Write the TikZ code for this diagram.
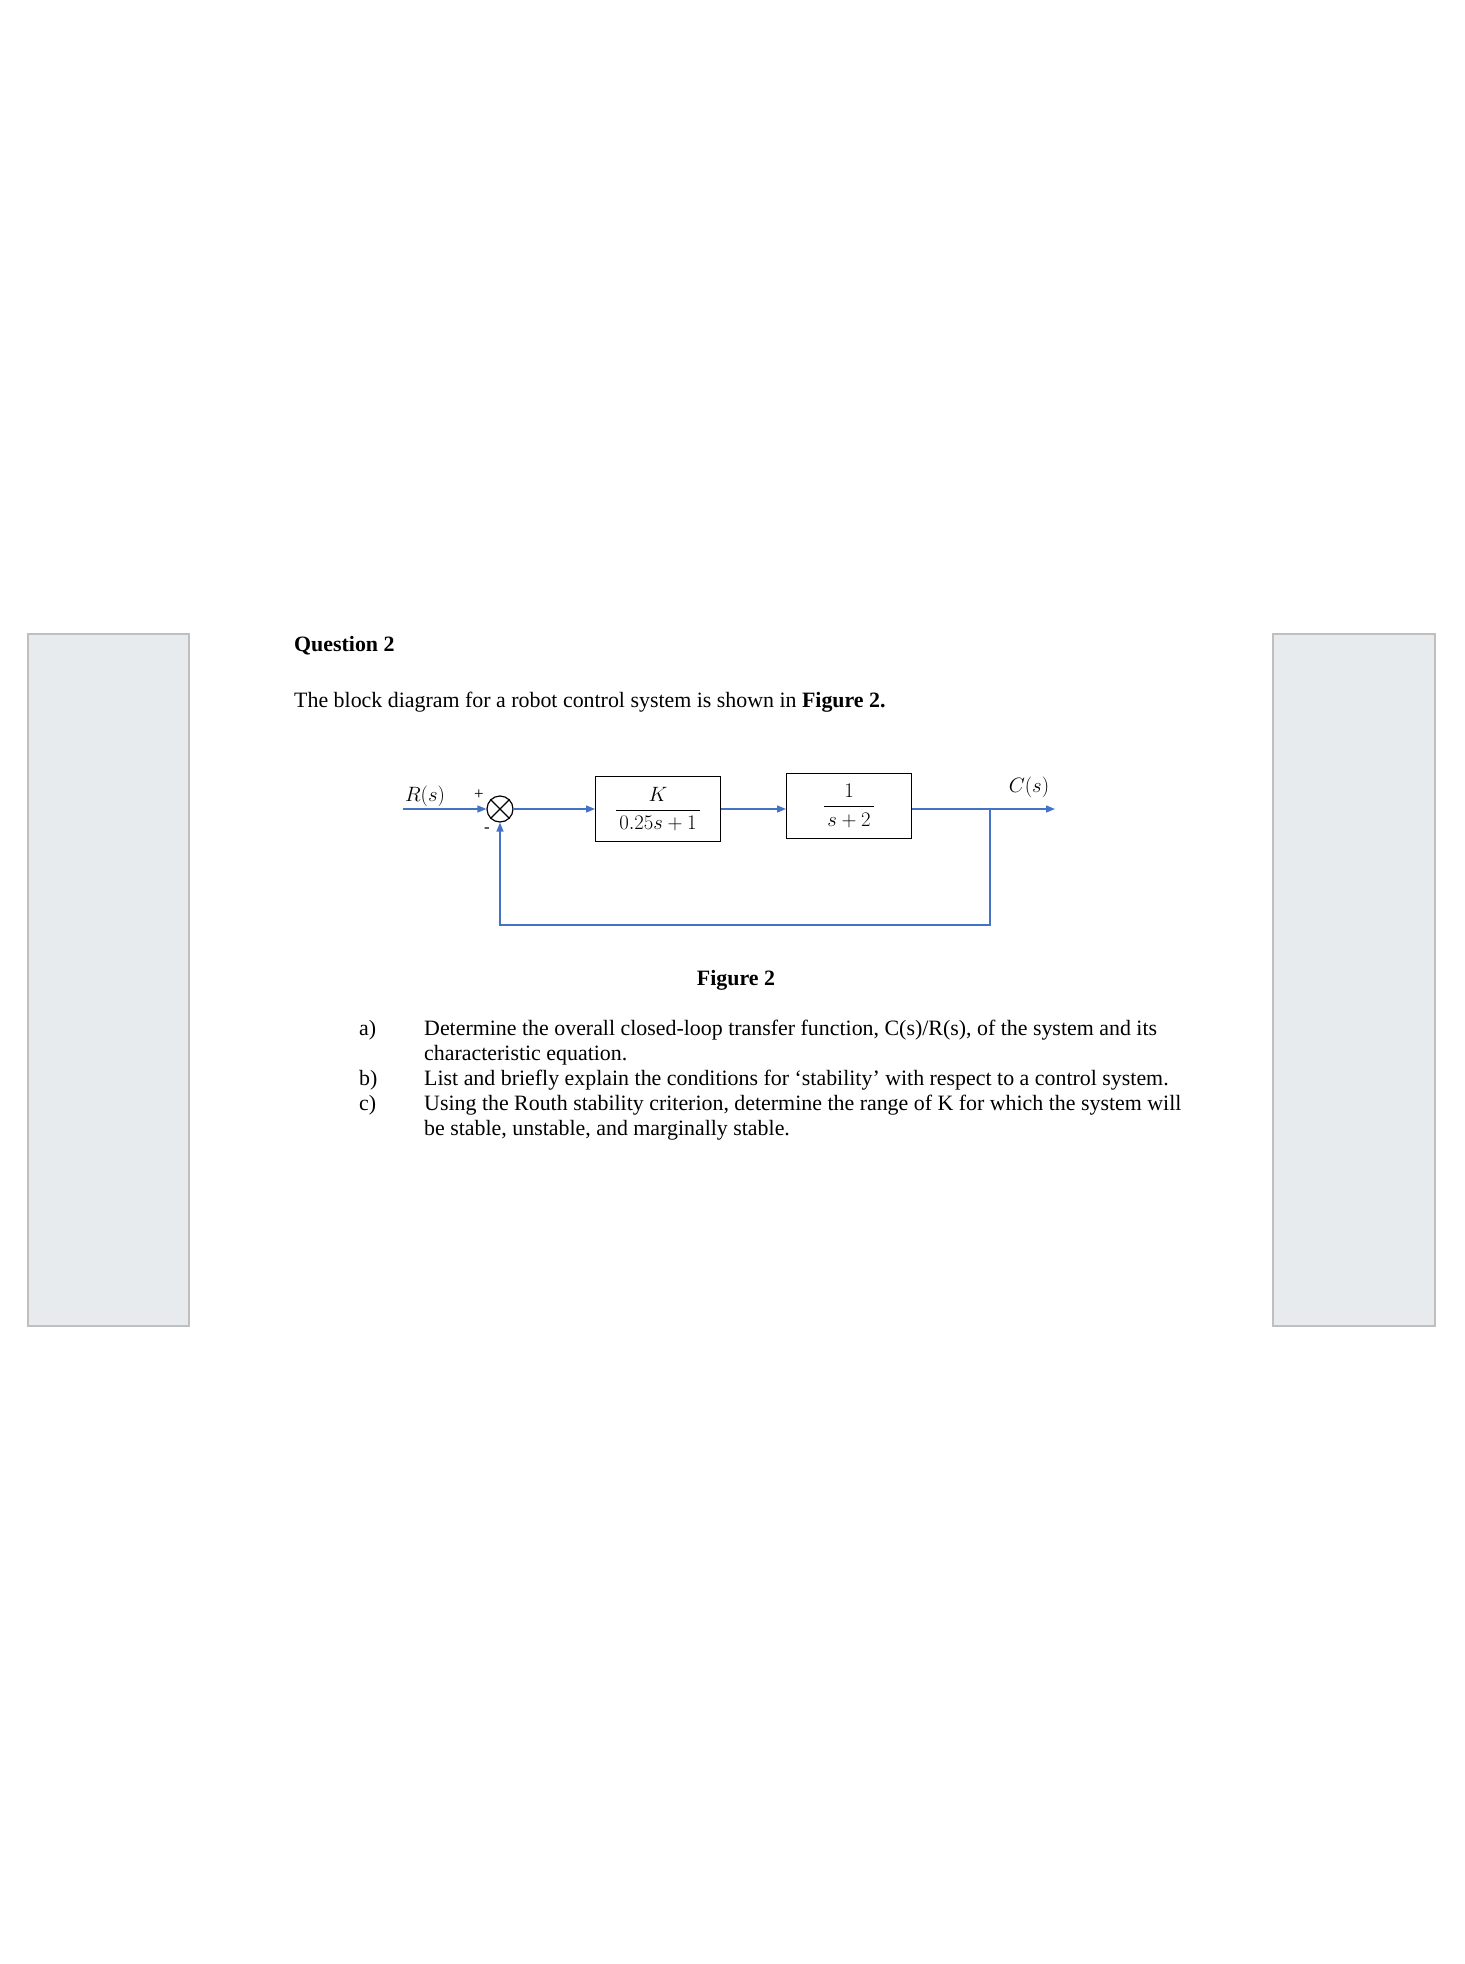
\documentclass[tikz,border=0pt]{standalone}
\usepackage{amsmath}
\usepackage{fontspec}
\setmainfont{Liberation Serif}
\usetikzlibrary{arrows.meta}
\definecolor{bl}{RGB}{68,114,196}
\definecolor{pan}{RGB}{232,235,237}
\begin{document}
\begin{tikzpicture}[x=1pt,y=-1pt,
  panel/.style={fill=pan,draw=black!25,line width=1.5pt},
  blk/.style={draw,line width=1pt,minimum width=125pt,minimum height=65pt,inner sep=0pt,font=\fontsize{21}{22}\selectfont},
  sig/.style={draw=bl,line width=1.3pt},
  arr/.style={sig,-{Triangle[length=9pt,width=7pt]}},
  txt/.style={font=\fontsize{21.9}{25}\selectfont,inner sep=0pt,anchor=north west,align=left},
  lbl/.style={font=\fontsize{21}{22}\selectfont,inner sep=0pt}]
\useasboundingbox (0,0) rectangle (1464,1964);
\fill[white] (0,0) rectangle (1464,1964);
\draw[panel] (28,634) rectangle (189,1326);
\draw[panel] (1273,634) rectangle (1435,1326);
\node[txt,font=\fontsize{21.9}{25}\selectfont\bfseries,anchor=west] (q) at (294,646) {Question 2};
\node[txt,anchor=west] (s) at (294,702) {The block diagram for a robot control system is shown in \textbf{Figure 2.}};
\node[lbl] (R) at (425,796) {$R(s)$};
\node[lbl] (C) at (1029,787) {$C(s)$};
\coordinate (in) at (403,809);
\node[draw,circle,line width=1.2pt,minimum size=26pt,inner sep=0pt] (sum) at (500,809) {};
\draw[line width=1.2pt] (sum.north west) -- (sum.south east) (sum.north east) -- (sum.south west);
\node[lbl,font=\fontsize{17}{18}\selectfont] (p) at (479,795) {+};
\node[lbl,font=\fontsize{17}{18}\selectfont] (m) at (487,830) {-};
\node[blk] (b1) at (658,809) {$\dfrac{K}{\,0.25s+1\,}$};
\node[blk] (b2) at (849,806) {$\dfrac{\;1\;}{\,s+2\,}$};
\coordinate (out) at (1055,809);
\coordinate (br) at (990,809);
\coordinate (bot) at (990,925);
\coordinate (botl) at (500,925);
\draw[arr] (in) -- (sum.west);
\draw[arr] (sum.east) -- (b1.west);
\draw[arr] (b1.east) -- (b2.west |- b1.east);
\draw[arr] (b2.east |- out) -- (out);
\draw[arr] (br) -- (bot) -- (botl) -- (sum.south);
\node[txt,anchor=center,font=\fontsize{21.9}{25}\selectfont\bfseries] (f) at (736,980) {Figure 2};
\node[txt] (la) at (359,1020) {a)\\[25pt]b)\\c)};
\node[txt] (ta) at (424,1020) {Determine the overall closed-loop transfer function, C(s)/R(s), of the system and its\\
characteristic equation.\\
List and briefly explain the conditions for `stability' with respect to a control system.\\
Using the Routh stability criterion, determine the range of K for which the system will\\
be stable, unstable, and marginally stable.};
\end{tikzpicture}
\end{document}
